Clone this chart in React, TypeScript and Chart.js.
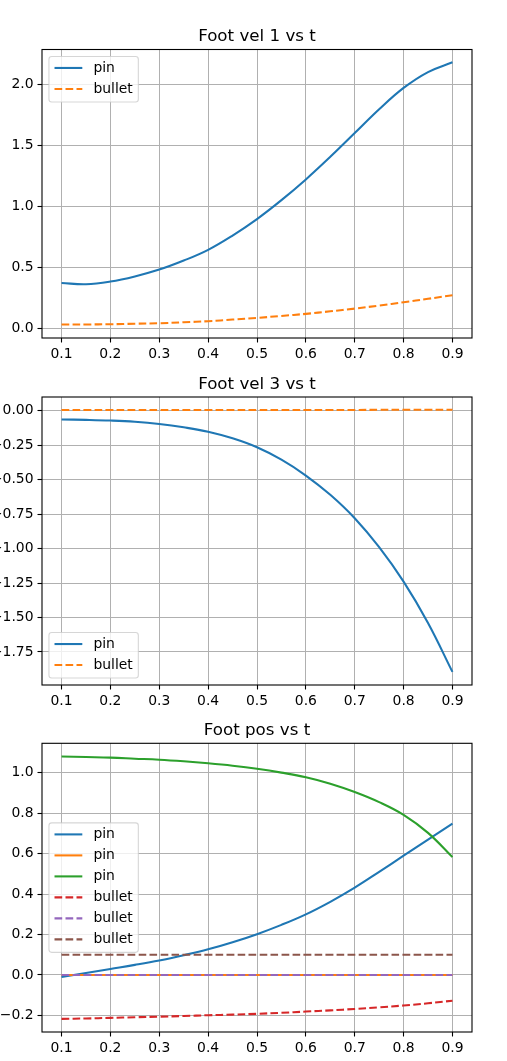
import React, { useEffect, useRef } from 'react';
import Chart from 'chart.js/auto';

// sample times
const T = [0.1, 0.15, 0.2, 0.25, 0.3, 0.35, 0.4, 0.45, 0.5, 0.55, 0.6, 0.65, 0.7, 0.75, 0.8, 0.85, 0.9];
const X_TICKS = [0.1, 0.2, 0.3, 0.4, 0.5, 0.6, 0.7, 0.8, 0.9];

// Foot vel 1
const VEL1_PIN = [0.376, 0.366, 0.388, 0.43, 0.486, 0.56, 0.648, 0.765, 0.9, 1.055, 1.225, 1.41, 1.605, 1.8, 1.975, 2.105, 2.185];
const VEL1_BULLET = [0.035, 0.036, 0.038, 0.042, 0.046, 0.054, 0.063, 0.076, 0.09, 0.106, 0.123, 0.144, 0.166, 0.191, 0.218, 0.246, 0.276];
const VEL1_TICKS = [0, 0.5, 1, 1.5, 2];

// Foot vel 3
const VEL3_PIN = [-0.063, -0.066, -0.071, -0.08, -0.096, -0.12, -0.152, -0.2, -0.265, -0.355, -0.47, -0.61, -0.78, -0.99, -1.24, -1.54, -1.895];
const VEL3_BULLET = [0.006, 0.006, 0.006, 0.006, 0.006, 0.006, 0.006, 0.006, 0.006, 0.006, 0.006, 0.006, 0.006, 0.007, 0.007, 0.007, 0.007];
const VEL3_TICKS = [-1.75, -1.5, -1.25, -1, -0.75, -0.5, -0.25, 0];

// Foot pos
const POS_PIN_0 = [-0.01, 0.01, 0.03, 0.05, 0.072, 0.098, 0.127, 0.162, 0.202, 0.248, 0.3, 0.362, 0.432, 0.51, 0.59, 0.67, 0.749];
const POS_PIN_1 = [0, 0, 0, 0, 0, 0, 0, 0, 0, 0, 0, 0, 0, 0, 0, 0, 0];
const POS_PIN_2 = [1.081, 1.078, 1.075, 1.07, 1.065, 1.057, 1.047, 1.035, 1.02, 1.001, 0.978, 0.946, 0.905, 0.855, 0.792, 0.703, 0.583];
const POS_BULLET_0 = [-0.217, -0.215, -0.212, -0.209, -0.206, -0.203, -0.199, -0.196, -0.192, -0.187, -0.181, -0.175, -0.168, -0.16, -0.151, -0.14, -0.127];
const POS_BULLET_1 = [0, 0, 0, 0, 0, 0, 0, 0, 0, 0, 0, 0, 0, 0, 0, 0, 0];
const POS_BULLET_2 = [0.1, 0.1, 0.1, 0.1, 0.1, 0.1, 0.1, 0.1, 0.1, 0.1, 0.1, 0.1, 0.1, 0.1, 0.1, 0.1, 0.1];
const POS_TICKS = [-0.2, 0, 0.2, 0.4, 0.6, 0.8, 1.0];

const C = ['#1f77b4', '#ff7f0e', '#2ca02c', '#d62728', '#9467bd', '#8c564b'];
const FONT = '"DejaVu Sans", sans-serif';
const TICK_PX = 13.9;
const TITLE_PX = 16.7;
const DASH = [7.7, 3.3];

Chart.defaults.font.family = FONT;
Chart.defaults.color = '#000';

type Series = { label: string; values: number[]; color: string; dashed: boolean };

// frame, title and an in-axes legend in the matplotlib manner
const mplPlugin = {
  id: 'mpl',
  afterDatasetsDraw(chart: any, _args: any, opts: any) {
    const { ctx, chartArea: a } = chart;
    ctx.save();
    ctx.strokeStyle = '#000';
    ctx.lineWidth = 1.1;
    ctx.strokeRect(a.left, a.top, a.right - a.left, a.bottom - a.top);

    ctx.font = `${TITLE_PX}px ${FONT}`;
    ctx.fillStyle = '#000';
    ctx.textAlign = 'center';
    ctx.textBaseline = 'alphabetic';
    ctx.fillText(opts.title, (a.left + a.right) / 2, a.top - 8.3);

    const items = chart.data.datasets;
    ctx.font = `${TICK_PX}px ${FONT}`;
    const fs = TICK_PX;
    const pad = 0.4 * fs;
    const handle = 2 * fs;
    const textPad = 0.8 * fs;
    const textW = Math.max(...items.map((d: any) => ctx.measureText(d.label).width));
    const w = pad * 2 + handle + textPad + textW;
    const h = 21 * items.length + 3.5;
    const x = a.left + 0.5 * fs;
    let y = a.top + 0.5 * fs;
    if (opts.loc === 'lower') y = a.bottom - 0.5 * fs - h;
    if (opts.loc === 'center') y = (a.top + a.bottom) / 2 - h / 2;

    ctx.beginPath();
    ctx.roundRect(x, y, w, h, 0.2 * fs);
    ctx.fillStyle = 'rgba(255,255,255,0.8)';
    ctx.fill();
    ctx.strokeStyle = 'rgba(204,204,204,0.8)';
    ctx.lineWidth = 1.1;
    ctx.stroke();

    items.forEach((d: any, i: number) => {
      const cy = y + 11.5 + 21 * i;
      ctx.beginPath();
      ctx.setLineDash(d.borderDash || []);
      ctx.strokeStyle = d.borderColor;
      ctx.lineWidth = d.borderWidth;
      ctx.moveTo(x + pad, cy);
      ctx.lineTo(x + pad + handle, cy);
      ctx.stroke();
      ctx.setLineDash([]);
      ctx.fillStyle = '#000';
      ctx.textAlign = 'left';
      ctx.textBaseline = 'middle';
      ctx.fillText(d.label, x + pad + handle + textPad, cy);
    });
    ctx.restore();
  },
};

interface SubPlotProps {
  title: string;
  series: Series[];
  yMin: number;
  yMax: number;
  yTicks: number[];
  yDecimals: number;
  legendLoc: string;
  top: number;
  padTop: number;
}

const fmt = (v: number, d: number) => v.toFixed(d).replace('-', '\u2212');

const SubPlot: React.FC<SubPlotProps> = ({ title, series, yMin, yMax, yTicks, yDecimals, legendLoc, top, padTop }) => {
  const canvasRef = useRef<HTMLCanvasElement>(null);

  useEffect(() => {
    if (!canvasRef.current) return;
    const n = series.length;
    const chart = new Chart(canvasRef.current, {
      type: 'line',
      data: {
        datasets: series.map((s, i) => ({
          label: s.label,
          data: T.map((t, k) => ({ x: t, y: s.values[k] })),
          borderColor: s.color,
          backgroundColor: s.color,
          borderWidth: 2.08,
          borderDash: s.dashed ? DASH : [],
          pointRadius: 0,
          fill: false,
          tension: 0.4,
          order: n - i,
        })),
      },
      options: {
        responsive: false,
        animation: false,
        layout: { padding: { left: 0, right: 35, top: padTop, bottom: 0 } },
        plugins: {
          legend: { display: false },
          title: { display: false },
          tooltip: { enabled: false },
          mpl: { title, loc: legendLoc },
        } as any,
        scales: {
          x: {
            type: 'linear',
            min: 0.06,
            max: 0.94,
            afterBuildTicks: (scale: any) => { scale.ticks = X_TICKS.map((v) => ({ value: v })); },
            afterFit: (scale: any) => { scale.height = 27; },
            ticks: { font: { size: TICK_PX }, color: '#000', padding: 4, maxRotation: 0, callback: (v: any) => fmt(Number(v), 1) },
            grid: { color: '#b0b0b0', lineWidth: 1, tickColor: '#000', tickLength: 4.5, tickWidth: 1.1 },
            border: { display: false },
          },
          y: {
            type: 'linear',
            min: yMin,
            max: yMax,
            afterBuildTicks: (scale: any) => { scale.ticks = yTicks.map((v) => ({ value: v })); },
            afterFit: (scale: any) => { scale.width = 42; },
            ticks: { font: { size: TICK_PX }, color: '#000', padding: 4, callback: (v: any) => fmt(Number(v), yDecimals) },
            grid: { color: '#b0b0b0', lineWidth: 1, tickColor: '#000', tickLength: 4.5, tickWidth: 1.1 },
            border: { display: false },
          },
        },
      },
      plugins: [mplPlugin],
    } as any);
    return () => chart.destroy();
  }, [title, series, yMin, yMax, yTicks, yDecimals, legendLoc, padTop]);

  return (
    <canvas
      ref={canvasRef}
      width={507}
      height={365}
      style={{ position: 'absolute', left: 0, top, width: 507, height: 365 }}
    />
  );
};

const VEL1_SERIES: Series[] = [
  { label: 'pin', values: VEL1_PIN, color: C[0], dashed: false },
  { label: 'bullet', values: VEL1_BULLET, color: C[1], dashed: true },
];
const VEL3_SERIES: Series[] = [
  { label: 'pin', values: VEL3_PIN, color: C[0], dashed: false },
  { label: 'bullet', values: VEL3_BULLET, color: C[1], dashed: true },
];
const POS_SERIES: Series[] = [
  { label: 'pin', values: POS_PIN_0, color: C[0], dashed: false },
  { label: 'pin', values: POS_PIN_1, color: C[1], dashed: false },
  { label: 'pin', values: POS_PIN_2, color: C[2], dashed: false },
  { label: 'bullet', values: POS_BULLET_0, color: C[3], dashed: true },
  { label: 'bullet', values: POS_BULLET_1, color: C[4], dashed: true },
  { label: 'bullet', values: POS_BULLET_2, color: C[5], dashed: true },
];

export default function App() {
  return (
    <div style={{ position: 'absolute', left: 0, top: 0, width: 507, height: 1061, background: '#fff', overflow: 'hidden' }}>
      <SubPlot title="Foot vel 1 vs t" series={VEL1_SERIES} yMin={-0.075} yMax={2.29} yTicks={VEL1_TICKS} yDecimals={1} legendLoc="upper" top={0} padTop={49.5} />
      <SubPlot title="Foot vel 3 vs t" series={VEL3_SERIES} yMin={-1.99} yMax={0.1} yTicks={VEL3_TICKS} yDecimals={2} legendLoc="lower" top={347} padTop={50} />
      <SubPlot title="Foot pos vs t" series={POS_SERIES} yMin={-0.282} yMax={1.146} yTicks={POS_TICKS} yDecimals={1} legendLoc="center" top={694} padTop={49.3} />
    </div>
  );
}
